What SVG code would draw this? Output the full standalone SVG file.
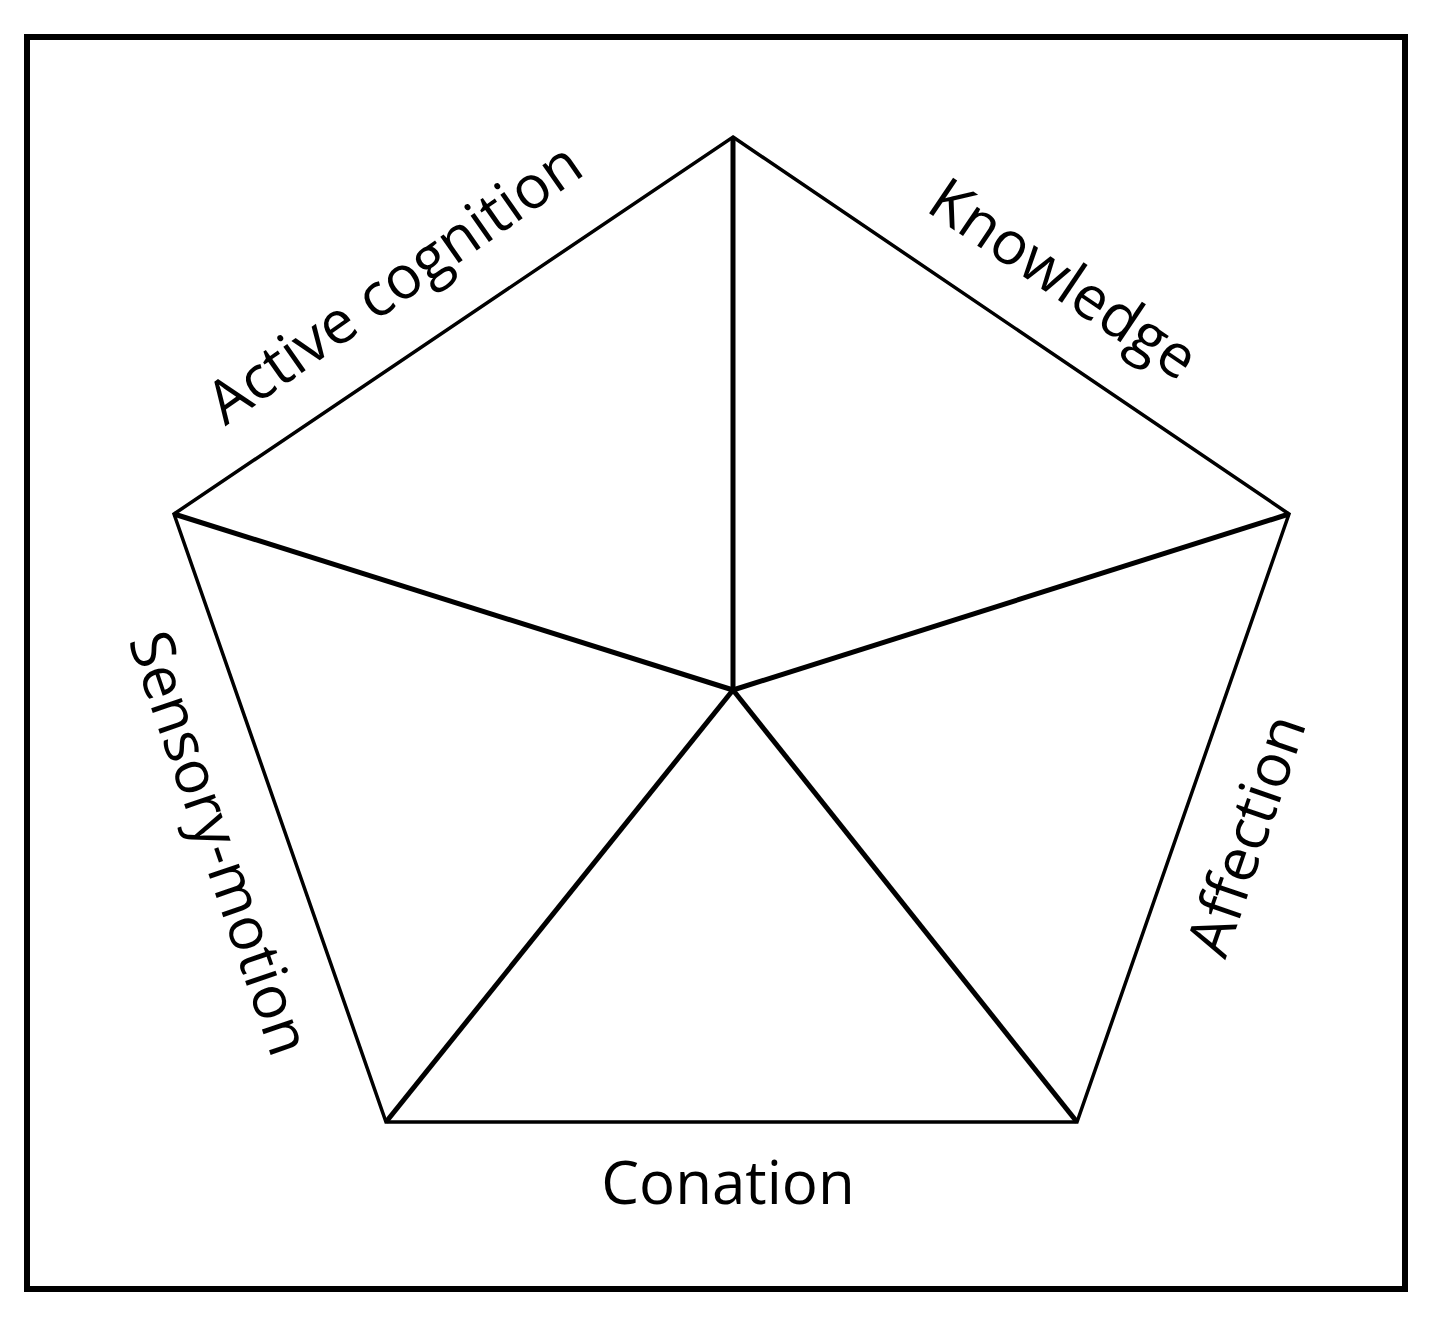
<svg xmlns="http://www.w3.org/2000/svg" width="1433" height="1323" viewBox="0 0 1433 1323">
<style>
.l{font-family:"Open Sans","Liberation Sans",sans-serif;font-size:60px;fill:#000;text-anchor:middle}
.o{stroke:#000;stroke-width:3.5;fill:none;stroke-linejoin:miter}
.i{stroke:#000;stroke-width:5;fill:none}
</style>
<rect x="0" y="0" width="1433" height="1323" fill="#fff"/>
<rect x="27" y="37" width="1378" height="1252" fill="none" stroke="#000" stroke-width="6"/>
<g id="connectors">
<polygon class="o" points="733,137 1289,514 1077,1122 386,1122 174,514"/>
<line class="i" x1="733" y1="690" x2="733" y2="137"/>
<line class="i" x1="733" y1="690" x2="1289" y2="514"/>
<line class="i" x1="733" y1="690" x2="1077" y2="1122"/>
<line class="i" x1="733" y1="690" x2="386" y2="1122"/>
<line class="i" x1="733" y1="690" x2="174" y2="514"/>
</g>
<g id="active"><text class="l" transform="translate(406,300) rotate(-35)">Active cognition</text></g>
<g id="knowledge"><text class="l" transform="translate(1052,296) rotate(34)">Knowledge</text></g>
<g id="sensory"><text class="l" transform="translate(200,850) rotate(71)">Sensory-motion</text></g>
<g id="affection"><text class="l" transform="translate(1266,842) rotate(-71)">Affection</text></g>
<g id="conation"><text class="l" x="728" y="1204">Conation</text></g>
</svg>
